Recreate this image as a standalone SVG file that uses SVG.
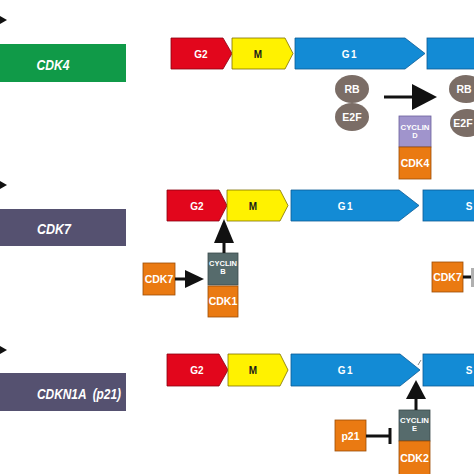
<svg xmlns="http://www.w3.org/2000/svg" width="474" height="474" viewBox="0 0 474 474">
<defs>
<style>
.g2{fill:#e2061c;stroke:#8a0010;stroke-width:0.8}
.m{fill:#fff200;stroke:#7d7000;stroke-width:0.8}
.g1{fill:#138bd5;stroke:#0a5a95;stroke-width:0.8}
.ph{font-family:"Liberation Sans",Arial,sans-serif;font-weight:bold;font-size:10px;text-anchor:middle}
.wt{fill:#ffffff}
.bk{fill:#1a1a1a}
.gene{font-family:"Liberation Sans",Arial,sans-serif;font-weight:bold;font-style:italic;font-size:15px;fill:#ffffff;text-anchor:middle}
.or{fill:#ea7a12;stroke:#9c4d05;stroke-width:0.8}
.cy{fill:#566b6c;stroke:#3a4a4b;stroke-width:0.8}
.cd{fill:#a094cc;stroke:#6a5f9c;stroke-width:0.8}
.el{fill:#7b6d66}
.bx{font-family:"Liberation Sans",Arial,sans-serif;font-weight:bold;font-size:10.5px;fill:#ffffff;text-anchor:middle}
.sm{font-family:"Liberation Sans",Arial,sans-serif;font-weight:bold;font-size:7.5px;fill:#ffffff;text-anchor:middle}
.ln{stroke:#111;stroke-width:3;fill:none}
.hd{fill:#111}
</style>
</defs>

<!-- Row 1 -->
<g id="gene-cdk4">
<rect x="0" y="44" width="126" height="38" fill="#109a48"/>
<text class="gene" x="53" y="70" fill="#e8f6e8" textLength="33" lengthAdjust="spacingAndGlyphs">CDK4</text>
</g>
<g id="r1-g2"><polygon class="g2" points="171,38 223,38 232,53.5 223,69 171,69"/><text class="ph wt" x="201" y="57.5">G2</text></g>
<g id="r1-m"><polygon class="m" points="232,38 285,38 293,53.5 285,69 232,69"/><text class="ph bk" x="258" y="57.5">M</text></g>
<g id="r1-g1"><polygon class="g1" points="295,38 405,38 425,53.5 405,69 295,69"/><text class="ph wt" x="350" y="57.5" letter-spacing="1.5">G1</text></g>
<g id="r1-s"><rect class="g1" x="427" y="38" width="50" height="31"/></g>
<g id="r1-rb"><ellipse class="el" cx="352" cy="89" rx="17" ry="14"/><text class="bx" x="352" y="93">RB</text></g>
<g id="r1-e2f"><ellipse class="el" cx="352" cy="117" rx="17" ry="14"/><text class="bx" x="352" y="121">E2F</text></g>
<g id="r1-rb2"><ellipse class="el" cx="466" cy="89" rx="17" ry="14"/><text class="bx" x="464" y="93">RB</text></g>
<g id="r1-e2f2"><ellipse class="el" cx="467" cy="123" rx="17" ry="14"/><text class="bx" x="463" y="127">E2F</text></g>
<g id="r1-cycd"><rect class="cd" x="399" y="116" width="32" height="31"/><text class="sm" x="415" y="130" textLength="29" lengthAdjust="spacingAndGlyphs">CYCLIN</text><text class="sm" x="415" y="137.5">D</text></g>
<g id="r1-cdk4"><rect class="or" x="399" y="147" width="32" height="32"/><text class="bx" x="415" y="167">CDK4</text></g>

<!-- Row 2 -->
<g id="gene-cdk7">
<rect x="0" y="209" width="126" height="37" fill="#555170"/>
<text class="gene" x="54" y="234" textLength="34" lengthAdjust="spacingAndGlyphs">CDK7</text>
</g>
<g id="r2-g2"><polygon class="g2" points="167,190 219,190 227,205.5 219,221 167,221"/><text class="ph wt" x="197" y="209.5">G2</text></g>
<g id="r2-m"><polygon class="m" points="227,190 280,190 288,205.5 280,221 227,221"/><text class="ph bk" x="253" y="209.5">M</text></g>
<g id="r2-g1"><polygon class="g1" points="291,190 399,190 419,205.5 399,221 291,221"/><text class="ph wt" x="346" y="209.5" letter-spacing="1.5">G1</text></g>
<g id="r2-s"><rect class="g1" x="423" y="190" width="54" height="31"/><text class="ph wt" x="469" y="209.5">S</text></g>
<g id="r2-cdk7a"><rect class="or" x="143" y="263" width="32" height="32"/><text class="bx" x="159" y="283">CDK7</text></g>
<g id="r2-cycb"><rect class="cy" x="208" y="253" width="30" height="32"/><text class="sm" x="223" y="266" textLength="28" lengthAdjust="spacingAndGlyphs">CYCLIN</text><text class="sm" x="223" y="274">B</text></g>
<g id="r2-cdk1"><rect class="or" x="208" y="286" width="30" height="31"/><text class="bx" x="223" y="305">CDK1</text></g>
<g id="r2-cdk7b"><rect class="or" x="432" y="262" width="31" height="30"/><text class="bx" x="447.5" y="281">CDK7</text></g>

<!-- Row 3 -->
<g id="gene-cdkn1a">
<rect x="0" y="373" width="126" height="38" fill="#555170"/>
<text class="gene" x="79" y="399" textLength="84" lengthAdjust="spacingAndGlyphs" xml:space="preserve">CDKN1A  (p21)</text>
</g>
<g id="r3-g2"><polygon class="g2" points="167,354 219,354 228,370 219,386 167,386"/><text class="ph wt" x="197" y="374">G2</text></g>
<g id="r3-m"><polygon class="m" points="228,354 280,354 288,370 280,386 228,386"/><text class="ph bk" x="253" y="374">M</text></g>
<g id="r3-g1"><polygon class="g1" points="291,354 400,354 420,370 400,386 291,386"/><text class="ph wt" x="346" y="374" letter-spacing="1.5">G1</text></g>
<g id="r3-s"><rect class="g1" x="423" y="354" width="54" height="32"/><text class="ph wt" x="469" y="374">S</text></g>
<g id="r3-p21"><rect class="or" x="335" y="420" width="31" height="31"/><text class="bx" x="350.5" y="439.5">p21</text></g>
<g id="r3-cyce"><rect class="cy" x="399" y="410" width="31" height="31"/><text class="sm" x="414.5" y="423" textLength="29" lengthAdjust="spacingAndGlyphs">CYCLIN</text><text class="sm" x="414.5" y="431">E</text></g>
<g id="r3-cdk2"><rect class="or" x="399" y="441" width="31" height="36"/><text class="bx" x="414.5" y="462">CDK2</text></g>

<!-- Connectors -->
<g id="connectors">
<polygon class="hd" points="0,16 7,20 0,24"/>
<polygon class="hd" points="0,181 7,185 0,189"/>
<polygon class="hd" points="0,346 7,350 0,354"/>
<line class="ln" x1="384" y1="97" x2="413" y2="97"/>
<polygon class="hd" points="412,84 437,97 412,110"/>
<line class="ln" x1="175" y1="279" x2="187" y2="279"/>
<polygon class="hd" points="185,270 204,279 185,288"/>
<line class="ln" x1="224" y1="253" x2="224" y2="241"/>
<polygon class="hd" points="214,243 224,219 234,243"/>
<line class="ln" x1="463" y1="277" x2="472" y2="277"/>
<rect x="471" y="268" width="3" height="19" fill="#b0b0b0"/>
<line class="ln" x1="366" y1="436" x2="389" y2="436"/>
<line class="ln" x1="390" y1="428" x2="390" y2="444"/>
<line class="ln" x1="416" y1="410" x2="416" y2="397"/>
<polygon class="hd" points="406,399 416,380 426,399"/>
<line x1="418" y1="365" x2="421" y2="360" stroke="#555" stroke-width="0.7"/>
</g>
</svg>
